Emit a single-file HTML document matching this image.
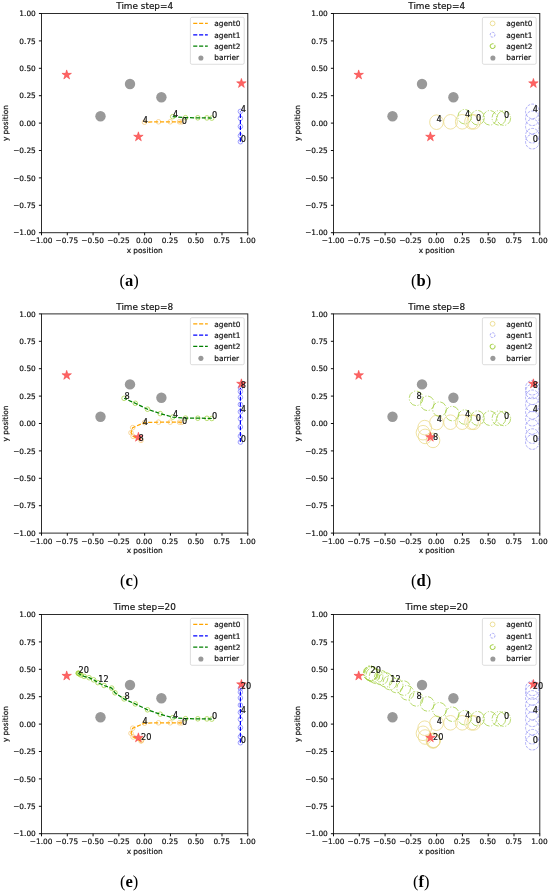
<!DOCTYPE html>
<html><head><meta charset="utf-8"><title>Trajectories</title>
<style>
html,body{margin:0;padding:0;background:#fff;}
svg{display:block;}
text{font-family:"DejaVu Sans","Liberation Sans",sans-serif;fill:#111;stroke:#111;stroke-width:0.18px;}
.tx{font-size:7.4px;text-anchor:middle;}
.ty{font-size:7.4px;text-anchor:end;}
.lg{font-size:7.4px;}
.n{font-size:8.2px;}
.tt{font-size:8.9px;text-anchor:middle;}
.lt{stroke:none;fill:#000;font-family:"Liberation Serif",serif;font-size:16.5px;text-anchor:middle;}
</style></head><body>
<svg width="550" height="893" viewBox="0 0 550 893">
<rect width="550" height="893" fill="#fff"/>

<g transform="translate(41.5,13.5)">
<clipPath id="c0"><rect x="0" y="0" width="206.3" height="219.2"/></clipPath>
<g clip-path="url(#c0)">
<circle cx="88.5" cy="70.5" r="5.2" fill="#999"/>
<circle cx="59" cy="102.8" r="5.2" fill="#999"/>
<circle cx="119.9" cy="83.8" r="5.2" fill="#999"/>
<circle cx="140.3" cy="108.4" r="2.3" fill="none" stroke="#f6c97c" stroke-width="0.75"/>
<circle cx="138" cy="108.3" r="2.3" fill="none" stroke="#f6c97c" stroke-width="0.75"/>
<circle cx="128.7" cy="108.3" r="2.3" fill="none" stroke="#f6c97c" stroke-width="0.75"/>
<circle cx="117" cy="108.3" r="2.3" fill="none" stroke="#f6c97c" stroke-width="0.75"/>
<circle cx="103" cy="108.7" r="2.3" fill="none" stroke="#f6c97c" stroke-width="0.75"/>
<path d="M140.3,108.4 L138,108.3 L128.7,108.3 L117,108.3 L103,108.7" fill="none" stroke="#ffa500" stroke-width="1.25" stroke-dasharray="4.1,1.8"/>
<circle cx="198.9" cy="128.2" r="2.3" fill="none" stroke="#8080ff" stroke-width="0.75"/>
<circle cx="198.9" cy="122.2" r="2.3" fill="none" stroke="#8080ff" stroke-width="0.75"/>
<circle cx="198.9" cy="113" r="2.3" fill="none" stroke="#8080ff" stroke-width="0.75"/>
<circle cx="198.9" cy="104.8" r="2.3" fill="none" stroke="#8080ff" stroke-width="0.75"/>
<circle cx="198.9" cy="97.9" r="2.3" fill="none" stroke="#8080ff" stroke-width="0.75"/>
<path d="M198.9,128.2 L198.9,122.2 L198.9,113 L198.9,104.8 L198.9,97.9" fill="none" stroke="#0000ff" stroke-width="1.25" stroke-dasharray="4.1,1.8"/>
<circle cx="170.3" cy="104.6" r="2.3" fill="none" stroke="#a3d140" stroke-width="0.75"/>
<circle cx="165.4" cy="104.4" r="2.3" fill="none" stroke="#a3d140" stroke-width="0.75"/>
<circle cx="156.3" cy="104.3" r="2.3" fill="none" stroke="#a3d140" stroke-width="0.75"/>
<circle cx="144" cy="104.2" r="2.3" fill="none" stroke="#a3d140" stroke-width="0.75"/>
<circle cx="131.2" cy="103.2" r="2.3" fill="none" stroke="#a3d140" stroke-width="0.75"/>
<path d="M170.3,104.6 L165.4,104.4 L156.3,104.3 L144,104.2 L131.2,103.2" fill="none" stroke="#008000" stroke-width="1.25" stroke-dasharray="4.1,1.8"/>
<path d="M25.2,56.4 L26.32,59.85 L29.96,59.85 L27.02,61.99 L28.14,65.45 L25.2,63.31 L22.26,65.45 L23.38,61.99 L20.44,59.85 L24.08,59.85Z" fill="#ff6464" stroke="#f03c3c" stroke-width="0.5"/>
<path d="M96.9,118.3 L98.02,121.75 L101.66,121.75 L98.72,123.89 L99.84,127.35 L96.9,125.21 L93.96,127.35 L95.08,123.89 L92.14,121.75 L95.78,121.75Z" fill="#ff6464" stroke="#f03c3c" stroke-width="0.5"/>
<path d="M199.9,64.9 L201.02,68.35 L204.66,68.35 L201.72,70.49 L202.84,73.95 L199.9,71.81 L196.96,73.95 L198.08,70.49 L195.14,68.35 L198.78,68.35Z" fill="#ff6464" stroke="#f03c3c" stroke-width="0.5"/>
</g>
<rect x="0" y="0" width="206.3" height="219.2" fill="none" stroke="#222" stroke-width="0.95"/>
<text x="140.3" y="110.1" class="n">0</text>
<text x="101.3" y="109.2" class="n">4</text>
<text x="199.2" y="128.5" class="n">0</text>
<text x="199.2" y="98.2" class="n">4</text>
<text x="170.6" y="104.9" class="n">0</text>
<text x="131.5" y="103.5" class="n">4</text>
<path d="M0,219.2v2.6M0,219.2h-2.6M25.79,219.2v2.6M0,191.8h-2.6M51.58,219.2v2.6M0,164.4h-2.6M77.36,219.2v2.6M0,137h-2.6M103.15,219.2v2.6M0,109.6h-2.6M128.94,219.2v2.6M0,82.2h-2.6M154.73,219.2v2.6M0,54.8h-2.6M180.51,219.2v2.6M0,27.4h-2.6M206.3,219.2v2.6M0,0h-2.6" stroke="#000" stroke-width="0.95" fill="none"/>
<text x="-0.4" y="229.8" class="tx">−1.00</text>
<text x="-5.7" y="221.9" class="ty">−1.00</text>
<text x="25.39" y="229.8" class="tx">−0.75</text>
<text x="-5.7" y="194.5" class="ty">−0.75</text>
<text x="51.18" y="229.8" class="tx">−0.50</text>
<text x="-5.7" y="167.1" class="ty">−0.50</text>
<text x="76.96" y="229.8" class="tx">−0.25</text>
<text x="-5.7" y="139.7" class="ty">−0.25</text>
<text x="102.75" y="229.8" class="tx">0.00</text>
<text x="-5.7" y="112.3" class="ty">0.00</text>
<text x="128.54" y="229.8" class="tx">0.25</text>
<text x="-5.7" y="84.9" class="ty">0.25</text>
<text x="154.33" y="229.8" class="tx">0.50</text>
<text x="-5.7" y="57.5" class="ty">0.50</text>
<text x="180.11" y="229.8" class="tx">0.75</text>
<text x="-5.7" y="30.1" class="ty">0.75</text>
<text x="205.9" y="229.8" class="tx">1.00</text>
<text x="-5.7" y="2.7" class="ty">1.00</text>
<text x="103.15" y="239.6" class="tx">x position</text>
<text transform="translate(-33.3,109.6) rotate(-90)" class="tx">y position</text>
<text x="103.15" y="-4.4" class="tt">Time step=4</text>
<rect x="148.9" y="3.8" width="53.8" height="47" rx="1.5" fill="#fff" fill-opacity="0.8" stroke="#d0d0d0" stroke-width="0.7"/>
<path d="M151.7,9.9h14.6" stroke="#ffa500" stroke-width="1.25" stroke-dasharray="4.1,1.8"/>
<text x="172.8" y="12.65" class="lg">agent0</text>
<path d="M151.7,21.25h14.6" stroke="#0000ff" stroke-width="1.25" stroke-dasharray="4.1,1.8"/>
<text x="172.8" y="24" class="lg">agent1</text>
<path d="M151.7,32.6h14.6" stroke="#008000" stroke-width="1.25" stroke-dasharray="4.1,1.8"/>
<text x="172.8" y="35.35" class="lg">agent2</text>
<circle cx="159.4" cy="44.45" r="2.55" fill="#999"/>
<text x="172.8" y="46.7" class="lg">barrier</text>
</g>
<text x="129.15" y="285.7" class="lt">(<tspan font-weight="bold">a</tspan>)</text>
<g transform="translate(333.5,13.5)">
<clipPath id="c1"><rect x="0" y="0" width="206.3" height="219.2"/></clipPath>
<g clip-path="url(#c1)">
<circle cx="88.5" cy="70.5" r="5.2" fill="#999"/>
<circle cx="59" cy="102.8" r="5.2" fill="#999"/>
<circle cx="119.9" cy="83.8" r="5.2" fill="#999"/>
<ellipse cx="140.3" cy="108.4" rx="6.85" ry="7.3" fill="none" stroke="#ebdb8c" stroke-width="0.8"/>
<ellipse cx="138" cy="108.3" rx="6.85" ry="7.3" fill="none" stroke="#ebdb8c" stroke-width="0.8"/>
<ellipse cx="128.7" cy="108.3" rx="6.85" ry="7.3" fill="none" stroke="#ebdb8c" stroke-width="0.8"/>
<ellipse cx="117" cy="108.3" rx="6.85" ry="7.3" fill="none" stroke="#ebdb8c" stroke-width="0.8"/>
<ellipse cx="103" cy="108.7" rx="6.85" ry="7.3" fill="none" stroke="#ebdb8c" stroke-width="0.8"/>
<ellipse cx="198.9" cy="128.2" rx="6.85" ry="7.3" fill="none" stroke="#9a9af5" stroke-width="0.8" stroke-dasharray="2.8,1.2"/>
<ellipse cx="198.9" cy="122.2" rx="6.85" ry="7.3" fill="none" stroke="#9a9af5" stroke-width="0.8" stroke-dasharray="2.8,1.2"/>
<ellipse cx="198.9" cy="113" rx="6.85" ry="7.3" fill="none" stroke="#9a9af5" stroke-width="0.8" stroke-dasharray="2.8,1.2"/>
<ellipse cx="198.9" cy="104.8" rx="6.85" ry="7.3" fill="none" stroke="#9a9af5" stroke-width="0.8" stroke-dasharray="2.8,1.2"/>
<ellipse cx="198.9" cy="97.9" rx="6.85" ry="7.3" fill="none" stroke="#9a9af5" stroke-width="0.8" stroke-dasharray="2.8,1.2"/>
<ellipse cx="170.3" cy="104.6" rx="6.85" ry="7.3" fill="none" stroke="#a6d048" stroke-width="0.8" stroke-dasharray="6.8,1.7,1.1,1.7"/>
<ellipse cx="165.4" cy="104.4" rx="6.85" ry="7.3" fill="none" stroke="#a6d048" stroke-width="0.8" stroke-dasharray="6.8,1.7,1.1,1.7"/>
<ellipse cx="156.3" cy="104.3" rx="6.85" ry="7.3" fill="none" stroke="#a6d048" stroke-width="0.8" stroke-dasharray="6.8,1.7,1.1,1.7"/>
<ellipse cx="144" cy="104.2" rx="6.85" ry="7.3" fill="none" stroke="#a6d048" stroke-width="0.8" stroke-dasharray="6.8,1.7,1.1,1.7"/>
<ellipse cx="131.2" cy="103.2" rx="6.85" ry="7.3" fill="none" stroke="#a6d048" stroke-width="0.8" stroke-dasharray="6.8,1.7,1.1,1.7"/>
<path d="M25.2,56.4 L26.32,59.85 L29.96,59.85 L27.02,61.99 L28.14,65.45 L25.2,63.31 L22.26,65.45 L23.38,61.99 L20.44,59.85 L24.08,59.85Z" fill="#ff6464" stroke="#f03c3c" stroke-width="0.5"/>
<path d="M96.9,118.3 L98.02,121.75 L101.66,121.75 L98.72,123.89 L99.84,127.35 L96.9,125.21 L93.96,127.35 L95.08,123.89 L92.14,121.75 L95.78,121.75Z" fill="#ff6464" stroke="#f03c3c" stroke-width="0.5"/>
<path d="M199.9,64.9 L201.02,68.35 L204.66,68.35 L201.72,70.49 L202.84,73.95 L199.9,71.81 L196.96,73.95 L198.08,70.49 L195.14,68.35 L198.78,68.35Z" fill="#ff6464" stroke="#f03c3c" stroke-width="0.5"/>
</g>
<rect x="0" y="0" width="206.3" height="219.2" fill="none" stroke="#222" stroke-width="0.95"/>
<text x="142.6" y="107.9" class="n">0</text>
<text x="103.1" y="108.9" class="n">4</text>
<text x="199.2" y="128.5" class="n">0</text>
<text x="199.2" y="98.2" class="n">4</text>
<text x="170.6" y="104.9" class="n">0</text>
<text x="131.5" y="103.5" class="n">4</text>
<path d="M0,219.2v2.6M0,219.2h-2.6M25.79,219.2v2.6M0,191.8h-2.6M51.58,219.2v2.6M0,164.4h-2.6M77.36,219.2v2.6M0,137h-2.6M103.15,219.2v2.6M0,109.6h-2.6M128.94,219.2v2.6M0,82.2h-2.6M154.73,219.2v2.6M0,54.8h-2.6M180.51,219.2v2.6M0,27.4h-2.6M206.3,219.2v2.6M0,0h-2.6" stroke="#000" stroke-width="0.95" fill="none"/>
<text x="-0.4" y="229.8" class="tx">−1.00</text>
<text x="-5.7" y="221.9" class="ty">−1.00</text>
<text x="25.39" y="229.8" class="tx">−0.75</text>
<text x="-5.7" y="194.5" class="ty">−0.75</text>
<text x="51.18" y="229.8" class="tx">−0.50</text>
<text x="-5.7" y="167.1" class="ty">−0.50</text>
<text x="76.96" y="229.8" class="tx">−0.25</text>
<text x="-5.7" y="139.7" class="ty">−0.25</text>
<text x="102.75" y="229.8" class="tx">0.00</text>
<text x="-5.7" y="112.3" class="ty">0.00</text>
<text x="128.54" y="229.8" class="tx">0.25</text>
<text x="-5.7" y="84.9" class="ty">0.25</text>
<text x="154.33" y="229.8" class="tx">0.50</text>
<text x="-5.7" y="57.5" class="ty">0.50</text>
<text x="180.11" y="229.8" class="tx">0.75</text>
<text x="-5.7" y="30.1" class="ty">0.75</text>
<text x="205.9" y="229.8" class="tx">1.00</text>
<text x="-5.7" y="2.7" class="ty">1.00</text>
<text x="103.15" y="239.6" class="tx">x position</text>
<text transform="translate(-33.3,109.6) rotate(-90)" class="tx">y position</text>
<text x="103.15" y="-4.4" class="tt">Time step=4</text>
<rect x="148.9" y="3.8" width="53.8" height="47" rx="1.5" fill="#fff" fill-opacity="0.8" stroke="#d0d0d0" stroke-width="0.7"/>
<circle cx="159.1" cy="9.9" r="2.4" fill="none" stroke="#ebdb8c" stroke-width="0.9"/>
<text x="172.8" y="12.65" class="lg">agent0</text>
<circle cx="159.1" cy="21.25" r="2.4" fill="none" stroke="#9a9af5" stroke-width="0.9" stroke-dasharray="2.2,1.1"/>
<text x="172.8" y="24" class="lg">agent1</text>
<circle cx="159.1" cy="32.6" r="2.4" fill="none" stroke="#a6d048" stroke-width="0.9" stroke-dasharray="12.3,2.8" transform="rotate(-30 159.1 32.6)"/>
<text x="172.8" y="35.35" class="lg">agent2</text>
<circle cx="159.4" cy="44.45" r="2.55" fill="#999"/>
<text x="172.8" y="46.7" class="lg">barrier</text>
</g>
<text x="421.15" y="285.7" class="lt">(<tspan font-weight="bold">b</tspan>)</text>
<g transform="translate(41.5,313.9)">
<clipPath id="c2"><rect x="0" y="0" width="206.3" height="219.2"/></clipPath>
<g clip-path="url(#c2)">
<circle cx="88.5" cy="70.5" r="5.2" fill="#999"/>
<circle cx="59" cy="102.8" r="5.2" fill="#999"/>
<circle cx="119.9" cy="83.8" r="5.2" fill="#999"/>
<circle cx="140.3" cy="108.4" r="2.3" fill="none" stroke="#f6c97c" stroke-width="0.75"/>
<circle cx="138" cy="108.3" r="2.3" fill="none" stroke="#f6c97c" stroke-width="0.75"/>
<circle cx="128.7" cy="108.3" r="2.3" fill="none" stroke="#f6c97c" stroke-width="0.75"/>
<circle cx="117" cy="108.3" r="2.3" fill="none" stroke="#f6c97c" stroke-width="0.75"/>
<circle cx="103" cy="108.7" r="2.3" fill="none" stroke="#f6c97c" stroke-width="0.75"/>
<circle cx="91.2" cy="113.7" r="2.3" fill="none" stroke="#f6c97c" stroke-width="0.75"/>
<circle cx="89.5" cy="118.8" r="2.3" fill="none" stroke="#f6c97c" stroke-width="0.75"/>
<circle cx="91.6" cy="122.5" r="2.3" fill="none" stroke="#f6c97c" stroke-width="0.75"/>
<circle cx="99.5" cy="126.5" r="2.3" fill="none" stroke="#f6c97c" stroke-width="0.75"/>
<path d="M140.3,108.4 L138,108.3 L128.7,108.3 L117,108.3 L103,108.7 L91.2,113.7 L89.5,118.8 L91.6,122.5 L99.5,126.5" fill="none" stroke="#ffa500" stroke-width="1.25" stroke-dasharray="4.1,1.8"/>
<circle cx="198.9" cy="128.2" r="2.3" fill="none" stroke="#8080ff" stroke-width="0.75"/>
<circle cx="198.9" cy="122.2" r="2.3" fill="none" stroke="#8080ff" stroke-width="0.75"/>
<circle cx="198.9" cy="113" r="2.3" fill="none" stroke="#8080ff" stroke-width="0.75"/>
<circle cx="198.9" cy="104.8" r="2.3" fill="none" stroke="#8080ff" stroke-width="0.75"/>
<circle cx="198.9" cy="97.9" r="2.3" fill="none" stroke="#8080ff" stroke-width="0.75"/>
<circle cx="198.9" cy="90.6" r="2.3" fill="none" stroke="#8080ff" stroke-width="0.75"/>
<circle cx="198.9" cy="83.4" r="2.3" fill="none" stroke="#8080ff" stroke-width="0.75"/>
<circle cx="198.9" cy="77.6" r="2.3" fill="none" stroke="#8080ff" stroke-width="0.75"/>
<circle cx="198.9" cy="73.8" r="2.3" fill="none" stroke="#8080ff" stroke-width="0.75"/>
<path d="M198.9,128.2 L198.9,122.2 L198.9,113 L198.9,104.8 L198.9,97.9 L198.9,90.6 L198.9,83.4 L198.9,77.6 L198.9,73.8" fill="none" stroke="#0000ff" stroke-width="1.25" stroke-dasharray="4.1,1.8"/>
<circle cx="170.3" cy="104.6" r="2.3" fill="none" stroke="#a3d140" stroke-width="0.75"/>
<circle cx="165.4" cy="104.4" r="2.3" fill="none" stroke="#a3d140" stroke-width="0.75"/>
<circle cx="156.3" cy="104.3" r="2.3" fill="none" stroke="#a3d140" stroke-width="0.75"/>
<circle cx="144" cy="104.2" r="2.3" fill="none" stroke="#a3d140" stroke-width="0.75"/>
<circle cx="131.2" cy="103.2" r="2.3" fill="none" stroke="#a3d140" stroke-width="0.75"/>
<circle cx="118.7" cy="99.7" r="2.3" fill="none" stroke="#a3d140" stroke-width="0.75"/>
<circle cx="106" cy="95.3" r="2.3" fill="none" stroke="#a3d140" stroke-width="0.75"/>
<circle cx="93.8" cy="89.4" r="2.3" fill="none" stroke="#a3d140" stroke-width="0.75"/>
<circle cx="82.6" cy="84.4" r="2.3" fill="none" stroke="#a3d140" stroke-width="0.75"/>
<path d="M170.3,104.6 L165.4,104.4 L156.3,104.3 L144,104.2 L131.2,103.2 L118.7,99.7 L106,95.3 L93.8,89.4 L82.6,84.4" fill="none" stroke="#008000" stroke-width="1.25" stroke-dasharray="4.1,1.8"/>
<path d="M25.2,56.4 L26.32,59.85 L29.96,59.85 L27.02,61.99 L28.14,65.45 L25.2,63.31 L22.26,65.45 L23.38,61.99 L20.44,59.85 L24.08,59.85Z" fill="#ff6464" stroke="#f03c3c" stroke-width="0.5"/>
<path d="M96.9,118.3 L98.02,121.75 L101.66,121.75 L98.72,123.89 L99.84,127.35 L96.9,125.21 L93.96,127.35 L95.08,123.89 L92.14,121.75 L95.78,121.75Z" fill="#ff6464" stroke="#f03c3c" stroke-width="0.5"/>
<path d="M199.9,64.9 L201.02,68.35 L204.66,68.35 L201.72,70.49 L202.84,73.95 L199.9,71.81 L196.96,73.95 L198.08,70.49 L195.14,68.35 L198.78,68.35Z" fill="#ff6464" stroke="#f03c3c" stroke-width="0.5"/>
</g>
<rect x="0" y="0" width="206.3" height="219.2" fill="none" stroke="#222" stroke-width="0.95"/>
<text x="140.5" y="110.6" class="n">0</text>
<text x="101.3" y="110.9" class="n">4</text>
<text x="97.1" y="127.6" class="n">8</text>
<text x="199.2" y="128.5" class="n">0</text>
<text x="199.2" y="98.2" class="n">4</text>
<text x="199.2" y="74.1" class="n">8</text>
<text x="170.6" y="104.9" class="n">0</text>
<text x="131.5" y="103.5" class="n">4</text>
<text x="82.9" y="84.7" class="n">8</text>
<path d="M0,219.2v2.6M0,219.2h-2.6M25.79,219.2v2.6M0,191.8h-2.6M51.58,219.2v2.6M0,164.4h-2.6M77.36,219.2v2.6M0,137h-2.6M103.15,219.2v2.6M0,109.6h-2.6M128.94,219.2v2.6M0,82.2h-2.6M154.73,219.2v2.6M0,54.8h-2.6M180.51,219.2v2.6M0,27.4h-2.6M206.3,219.2v2.6M0,0h-2.6" stroke="#000" stroke-width="0.95" fill="none"/>
<text x="-0.4" y="229.8" class="tx">−1.00</text>
<text x="-5.7" y="221.9" class="ty">−1.00</text>
<text x="25.39" y="229.8" class="tx">−0.75</text>
<text x="-5.7" y="194.5" class="ty">−0.75</text>
<text x="51.18" y="229.8" class="tx">−0.50</text>
<text x="-5.7" y="167.1" class="ty">−0.50</text>
<text x="76.96" y="229.8" class="tx">−0.25</text>
<text x="-5.7" y="139.7" class="ty">−0.25</text>
<text x="102.75" y="229.8" class="tx">0.00</text>
<text x="-5.7" y="112.3" class="ty">0.00</text>
<text x="128.54" y="229.8" class="tx">0.25</text>
<text x="-5.7" y="84.9" class="ty">0.25</text>
<text x="154.33" y="229.8" class="tx">0.50</text>
<text x="-5.7" y="57.5" class="ty">0.50</text>
<text x="180.11" y="229.8" class="tx">0.75</text>
<text x="-5.7" y="30.1" class="ty">0.75</text>
<text x="205.9" y="229.8" class="tx">1.00</text>
<text x="-5.7" y="2.7" class="ty">1.00</text>
<text x="103.15" y="239.6" class="tx">x position</text>
<text transform="translate(-33.3,109.6) rotate(-90)" class="tx">y position</text>
<text x="103.15" y="-4.4" class="tt">Time step=8</text>
<rect x="148.9" y="3.8" width="53.8" height="47" rx="1.5" fill="#fff" fill-opacity="0.8" stroke="#d0d0d0" stroke-width="0.7"/>
<path d="M151.7,9.9h14.6" stroke="#ffa500" stroke-width="1.25" stroke-dasharray="4.1,1.8"/>
<text x="172.8" y="12.65" class="lg">agent0</text>
<path d="M151.7,21.25h14.6" stroke="#0000ff" stroke-width="1.25" stroke-dasharray="4.1,1.8"/>
<text x="172.8" y="24" class="lg">agent1</text>
<path d="M151.7,32.6h14.6" stroke="#008000" stroke-width="1.25" stroke-dasharray="4.1,1.8"/>
<text x="172.8" y="35.35" class="lg">agent2</text>
<circle cx="159.4" cy="44.45" r="2.55" fill="#999"/>
<text x="172.8" y="46.7" class="lg">barrier</text>
</g>
<text x="129.15" y="586.1" class="lt">(<tspan font-weight="bold">c</tspan>)</text>
<g transform="translate(333.5,313.9)">
<clipPath id="c3"><rect x="0" y="0" width="206.3" height="219.2"/></clipPath>
<g clip-path="url(#c3)">
<circle cx="88.5" cy="70.5" r="5.2" fill="#999"/>
<circle cx="59" cy="102.8" r="5.2" fill="#999"/>
<circle cx="119.9" cy="83.8" r="5.2" fill="#999"/>
<ellipse cx="140.3" cy="108.4" rx="6.85" ry="7.3" fill="none" stroke="#ebdb8c" stroke-width="0.8"/>
<ellipse cx="138" cy="108.3" rx="6.85" ry="7.3" fill="none" stroke="#ebdb8c" stroke-width="0.8"/>
<ellipse cx="128.7" cy="108.3" rx="6.85" ry="7.3" fill="none" stroke="#ebdb8c" stroke-width="0.8"/>
<ellipse cx="117" cy="108.3" rx="6.85" ry="7.3" fill="none" stroke="#ebdb8c" stroke-width="0.8"/>
<ellipse cx="103" cy="108.7" rx="6.85" ry="7.3" fill="none" stroke="#ebdb8c" stroke-width="0.8"/>
<ellipse cx="91.2" cy="113.7" rx="6.85" ry="7.3" fill="none" stroke="#ebdb8c" stroke-width="0.8"/>
<ellipse cx="89.5" cy="118.8" rx="6.85" ry="7.3" fill="none" stroke="#ebdb8c" stroke-width="0.8"/>
<ellipse cx="91.6" cy="122.5" rx="6.85" ry="7.3" fill="none" stroke="#ebdb8c" stroke-width="0.8"/>
<ellipse cx="99.5" cy="126.5" rx="6.85" ry="7.3" fill="none" stroke="#ebdb8c" stroke-width="0.8"/>
<ellipse cx="198.9" cy="128.2" rx="6.85" ry="7.3" fill="none" stroke="#9a9af5" stroke-width="0.8" stroke-dasharray="2.8,1.2"/>
<ellipse cx="198.9" cy="122.2" rx="6.85" ry="7.3" fill="none" stroke="#9a9af5" stroke-width="0.8" stroke-dasharray="2.8,1.2"/>
<ellipse cx="198.9" cy="113" rx="6.85" ry="7.3" fill="none" stroke="#9a9af5" stroke-width="0.8" stroke-dasharray="2.8,1.2"/>
<ellipse cx="198.9" cy="104.8" rx="6.85" ry="7.3" fill="none" stroke="#9a9af5" stroke-width="0.8" stroke-dasharray="2.8,1.2"/>
<ellipse cx="198.9" cy="97.9" rx="6.85" ry="7.3" fill="none" stroke="#9a9af5" stroke-width="0.8" stroke-dasharray="2.8,1.2"/>
<ellipse cx="198.9" cy="90.6" rx="6.85" ry="7.3" fill="none" stroke="#9a9af5" stroke-width="0.8" stroke-dasharray="2.8,1.2"/>
<ellipse cx="198.9" cy="83.4" rx="6.85" ry="7.3" fill="none" stroke="#9a9af5" stroke-width="0.8" stroke-dasharray="2.8,1.2"/>
<ellipse cx="198.9" cy="77.6" rx="6.85" ry="7.3" fill="none" stroke="#9a9af5" stroke-width="0.8" stroke-dasharray="2.8,1.2"/>
<ellipse cx="198.9" cy="73.8" rx="6.85" ry="7.3" fill="none" stroke="#9a9af5" stroke-width="0.8" stroke-dasharray="2.8,1.2"/>
<ellipse cx="170.3" cy="104.6" rx="6.85" ry="7.3" fill="none" stroke="#a6d048" stroke-width="0.8" stroke-dasharray="6.8,1.7,1.1,1.7"/>
<ellipse cx="165.4" cy="104.4" rx="6.85" ry="7.3" fill="none" stroke="#a6d048" stroke-width="0.8" stroke-dasharray="6.8,1.7,1.1,1.7"/>
<ellipse cx="156.3" cy="104.3" rx="6.85" ry="7.3" fill="none" stroke="#a6d048" stroke-width="0.8" stroke-dasharray="6.8,1.7,1.1,1.7"/>
<ellipse cx="144" cy="104.2" rx="6.85" ry="7.3" fill="none" stroke="#a6d048" stroke-width="0.8" stroke-dasharray="6.8,1.7,1.1,1.7"/>
<ellipse cx="131.2" cy="103.2" rx="6.85" ry="7.3" fill="none" stroke="#a6d048" stroke-width="0.8" stroke-dasharray="6.8,1.7,1.1,1.7"/>
<ellipse cx="118.7" cy="99.7" rx="6.85" ry="7.3" fill="none" stroke="#a6d048" stroke-width="0.8" stroke-dasharray="6.8,1.7,1.1,1.7"/>
<ellipse cx="106" cy="95.3" rx="6.85" ry="7.3" fill="none" stroke="#a6d048" stroke-width="0.8" stroke-dasharray="6.8,1.7,1.1,1.7"/>
<ellipse cx="93.8" cy="89.4" rx="6.85" ry="7.3" fill="none" stroke="#a6d048" stroke-width="0.8" stroke-dasharray="6.8,1.7,1.1,1.7"/>
<ellipse cx="82.6" cy="84.4" rx="6.85" ry="7.3" fill="none" stroke="#a6d048" stroke-width="0.8" stroke-dasharray="6.8,1.7,1.1,1.7"/>
<path d="M25.2,56.4 L26.32,59.85 L29.96,59.85 L27.02,61.99 L28.14,65.45 L25.2,63.31 L22.26,65.45 L23.38,61.99 L20.44,59.85 L24.08,59.85Z" fill="#ff6464" stroke="#f03c3c" stroke-width="0.5"/>
<path d="M96.9,118.3 L98.02,121.75 L101.66,121.75 L98.72,123.89 L99.84,127.35 L96.9,125.21 L93.96,127.35 L95.08,123.89 L92.14,121.75 L95.78,121.75Z" fill="#ff6464" stroke="#f03c3c" stroke-width="0.5"/>
<path d="M199.9,64.9 L201.02,68.35 L204.66,68.35 L201.72,70.49 L202.84,73.95 L199.9,71.81 L196.96,73.95 L198.08,70.49 L195.14,68.35 L198.78,68.35Z" fill="#ff6464" stroke="#f03c3c" stroke-width="0.5"/>
</g>
<rect x="0" y="0" width="206.3" height="219.2" fill="none" stroke="#222" stroke-width="0.95"/>
<text x="142.2" y="107.5" class="n">0</text>
<text x="103.3" y="108.6" class="n">4</text>
<text x="99.6" y="125.7" class="n">8</text>
<text x="199.2" y="128.5" class="n">0</text>
<text x="199.2" y="98.2" class="n">4</text>
<text x="199.2" y="74.1" class="n">8</text>
<text x="170.6" y="104.9" class="n">0</text>
<text x="131.5" y="103.5" class="n">4</text>
<text x="82.9" y="84.7" class="n">8</text>
<path d="M0,219.2v2.6M0,219.2h-2.6M25.79,219.2v2.6M0,191.8h-2.6M51.58,219.2v2.6M0,164.4h-2.6M77.36,219.2v2.6M0,137h-2.6M103.15,219.2v2.6M0,109.6h-2.6M128.94,219.2v2.6M0,82.2h-2.6M154.73,219.2v2.6M0,54.8h-2.6M180.51,219.2v2.6M0,27.4h-2.6M206.3,219.2v2.6M0,0h-2.6" stroke="#000" stroke-width="0.95" fill="none"/>
<text x="-0.4" y="229.8" class="tx">−1.00</text>
<text x="-5.7" y="221.9" class="ty">−1.00</text>
<text x="25.39" y="229.8" class="tx">−0.75</text>
<text x="-5.7" y="194.5" class="ty">−0.75</text>
<text x="51.18" y="229.8" class="tx">−0.50</text>
<text x="-5.7" y="167.1" class="ty">−0.50</text>
<text x="76.96" y="229.8" class="tx">−0.25</text>
<text x="-5.7" y="139.7" class="ty">−0.25</text>
<text x="102.75" y="229.8" class="tx">0.00</text>
<text x="-5.7" y="112.3" class="ty">0.00</text>
<text x="128.54" y="229.8" class="tx">0.25</text>
<text x="-5.7" y="84.9" class="ty">0.25</text>
<text x="154.33" y="229.8" class="tx">0.50</text>
<text x="-5.7" y="57.5" class="ty">0.50</text>
<text x="180.11" y="229.8" class="tx">0.75</text>
<text x="-5.7" y="30.1" class="ty">0.75</text>
<text x="205.9" y="229.8" class="tx">1.00</text>
<text x="-5.7" y="2.7" class="ty">1.00</text>
<text x="103.15" y="239.6" class="tx">x position</text>
<text transform="translate(-33.3,109.6) rotate(-90)" class="tx">y position</text>
<text x="103.15" y="-4.4" class="tt">Time step=8</text>
<rect x="148.9" y="3.8" width="53.8" height="47" rx="1.5" fill="#fff" fill-opacity="0.8" stroke="#d0d0d0" stroke-width="0.7"/>
<circle cx="159.1" cy="9.9" r="2.4" fill="none" stroke="#ebdb8c" stroke-width="0.9"/>
<text x="172.8" y="12.65" class="lg">agent0</text>
<circle cx="159.1" cy="21.25" r="2.4" fill="none" stroke="#9a9af5" stroke-width="0.9" stroke-dasharray="2.2,1.1"/>
<text x="172.8" y="24" class="lg">agent1</text>
<circle cx="159.1" cy="32.6" r="2.4" fill="none" stroke="#a6d048" stroke-width="0.9" stroke-dasharray="12.3,2.8" transform="rotate(-30 159.1 32.6)"/>
<text x="172.8" y="35.35" class="lg">agent2</text>
<circle cx="159.4" cy="44.45" r="2.55" fill="#999"/>
<text x="172.8" y="46.7" class="lg">barrier</text>
</g>
<text x="421.15" y="586.1" class="lt">(<tspan font-weight="bold">d</tspan>)</text>
<g transform="translate(41.5,614.5)">
<clipPath id="c4"><rect x="0" y="0" width="206.3" height="219.2"/></clipPath>
<g clip-path="url(#c4)">
<circle cx="88.5" cy="70.5" r="5.2" fill="#999"/>
<circle cx="59" cy="102.8" r="5.2" fill="#999"/>
<circle cx="119.9" cy="83.8" r="5.2" fill="#999"/>
<circle cx="140.3" cy="108.4" r="2.3" fill="none" stroke="#f6c97c" stroke-width="0.75"/>
<circle cx="138" cy="108.3" r="2.3" fill="none" stroke="#f6c97c" stroke-width="0.75"/>
<circle cx="128.7" cy="108.3" r="2.3" fill="none" stroke="#f6c97c" stroke-width="0.75"/>
<circle cx="117" cy="108.3" r="2.3" fill="none" stroke="#f6c97c" stroke-width="0.75"/>
<circle cx="103" cy="108.7" r="2.3" fill="none" stroke="#f6c97c" stroke-width="0.75"/>
<circle cx="91.2" cy="113.7" r="2.3" fill="none" stroke="#f6c97c" stroke-width="0.75"/>
<circle cx="89.5" cy="118.8" r="2.3" fill="none" stroke="#f6c97c" stroke-width="0.75"/>
<circle cx="91.6" cy="122.5" r="2.3" fill="none" stroke="#f6c97c" stroke-width="0.75"/>
<circle cx="99.5" cy="126.5" r="2.3" fill="none" stroke="#f6c97c" stroke-width="0.75"/>
<circle cx="99.9" cy="126" r="2.3" fill="none" stroke="#f6c97c" stroke-width="0.75"/>
<circle cx="100" cy="125.8" r="2.3" fill="none" stroke="#f6c97c" stroke-width="0.75"/>
<path d="M140.3,108.4 L138,108.3 L128.7,108.3 L117,108.3 L103,108.7 L91.2,113.7 L89.5,118.8 L91.6,122.5 L99.5,126.5 L99.9,126 L100,125.8 L100,125.8 L100,125.8 L100,125.8 L100,125.8 L100,125.8 L100,125.8 L100,125.8 L100,125.8 L100,125.8 L100,125.8" fill="none" stroke="#ffa500" stroke-width="1.25" stroke-dasharray="4.1,1.8"/>
<circle cx="198.9" cy="128.2" r="2.3" fill="none" stroke="#8080ff" stroke-width="0.75"/>
<circle cx="198.9" cy="122.2" r="2.3" fill="none" stroke="#8080ff" stroke-width="0.75"/>
<circle cx="198.9" cy="113" r="2.3" fill="none" stroke="#8080ff" stroke-width="0.75"/>
<circle cx="198.9" cy="104.8" r="2.3" fill="none" stroke="#8080ff" stroke-width="0.75"/>
<circle cx="198.9" cy="97.9" r="2.3" fill="none" stroke="#8080ff" stroke-width="0.75"/>
<circle cx="198.9" cy="90.6" r="2.3" fill="none" stroke="#8080ff" stroke-width="0.75"/>
<circle cx="198.9" cy="83.4" r="2.3" fill="none" stroke="#8080ff" stroke-width="0.75"/>
<circle cx="198.9" cy="77.6" r="2.3" fill="none" stroke="#8080ff" stroke-width="0.75"/>
<circle cx="198.9" cy="73.8" r="2.3" fill="none" stroke="#8080ff" stroke-width="0.75"/>
<path d="M198.9,128.2 L198.9,122.2 L198.9,113 L198.9,104.8 L198.9,97.9 L198.9,90.6 L198.9,83.4 L198.9,77.6 L198.9,73.8 L198.9,73.8 L198.9,73.8 L198.9,73.8 L198.9,73.8 L198.9,73.8 L198.9,73.8 L198.9,73.8 L198.9,73.8 L198.9,73.8 L198.9,73.8 L198.9,73.8 L198.9,73.8" fill="none" stroke="#0000ff" stroke-width="1.25" stroke-dasharray="4.1,1.8"/>
<circle cx="170.3" cy="104.6" r="2.3" fill="none" stroke="#a3d140" stroke-width="0.75"/>
<circle cx="165.4" cy="104.4" r="2.3" fill="none" stroke="#a3d140" stroke-width="0.75"/>
<circle cx="156.3" cy="104.3" r="2.3" fill="none" stroke="#a3d140" stroke-width="0.75"/>
<circle cx="144" cy="104.2" r="2.3" fill="none" stroke="#a3d140" stroke-width="0.75"/>
<circle cx="131.2" cy="103.2" r="2.3" fill="none" stroke="#a3d140" stroke-width="0.75"/>
<circle cx="118.7" cy="99.7" r="2.3" fill="none" stroke="#a3d140" stroke-width="0.75"/>
<circle cx="106" cy="95.3" r="2.3" fill="none" stroke="#a3d140" stroke-width="0.75"/>
<circle cx="93.8" cy="89.4" r="2.3" fill="none" stroke="#a3d140" stroke-width="0.75"/>
<circle cx="82.6" cy="84.4" r="2.3" fill="none" stroke="#a3d140" stroke-width="0.75"/>
<circle cx="73.5" cy="78.3" r="2.3" fill="none" stroke="#a3d140" stroke-width="0.75"/>
<circle cx="70.2" cy="73.6" r="2.3" fill="none" stroke="#a3d140" stroke-width="0.75"/>
<circle cx="62.6" cy="71" r="2.3" fill="none" stroke="#a3d140" stroke-width="0.75"/>
<circle cx="56.4" cy="68.1" r="2.3" fill="none" stroke="#a3d140" stroke-width="0.75"/>
<circle cx="52.1" cy="65.3" r="2.3" fill="none" stroke="#a3d140" stroke-width="0.75"/>
<circle cx="47.6" cy="63.2" r="2.3" fill="none" stroke="#a3d140" stroke-width="0.75"/>
<circle cx="42.6" cy="61.9" r="2.3" fill="none" stroke="#a3d140" stroke-width="0.75"/>
<circle cx="39.4" cy="60.5" r="2.3" fill="none" stroke="#a3d140" stroke-width="0.75"/>
<circle cx="38" cy="59.5" r="2.3" fill="none" stroke="#a3d140" stroke-width="0.75"/>
<circle cx="37.3" cy="59" r="2.3" fill="none" stroke="#a3d140" stroke-width="0.75"/>
<circle cx="36.9" cy="58.8" r="2.3" fill="none" stroke="#a3d140" stroke-width="0.75"/>
<circle cx="36.7" cy="58.7" r="2.3" fill="none" stroke="#a3d140" stroke-width="0.75"/>
<path d="M170.3,104.6 L165.4,104.4 L156.3,104.3 L144,104.2 L131.2,103.2 L118.7,99.7 L106,95.3 L93.8,89.4 L82.6,84.4 L73.5,78.3 L70.2,73.6 L62.6,71 L56.4,68.1 L52.1,65.3 L47.6,63.2 L42.6,61.9 L39.4,60.5 L38,59.5 L37.3,59 L36.9,58.8 L36.7,58.7" fill="none" stroke="#008000" stroke-width="1.25" stroke-dasharray="4.1,1.8"/>
<path d="M25.2,56.4 L26.32,59.85 L29.96,59.85 L27.02,61.99 L28.14,65.45 L25.2,63.31 L22.26,65.45 L23.38,61.99 L20.44,59.85 L24.08,59.85Z" fill="#ff6464" stroke="#f03c3c" stroke-width="0.5"/>
<path d="M96.9,118.3 L98.02,121.75 L101.66,121.75 L98.72,123.89 L99.84,127.35 L96.9,125.21 L93.96,127.35 L95.08,123.89 L92.14,121.75 L95.78,121.75Z" fill="#ff6464" stroke="#f03c3c" stroke-width="0.5"/>
<path d="M199.9,64.9 L201.02,68.35 L204.66,68.35 L201.72,70.49 L202.84,73.95 L199.9,71.81 L196.96,73.95 L198.08,70.49 L195.14,68.35 L198.78,68.35Z" fill="#ff6464" stroke="#f03c3c" stroke-width="0.5"/>
</g>
<rect x="0" y="0" width="206.3" height="219.2" fill="none" stroke="#222" stroke-width="0.95"/>
<text x="140.4" y="110.4" class="n">0</text>
<text x="101" y="109.5" class="n">4</text>
<text x="99.6" y="125.8" class="n">20</text>
<text x="199.2" y="128.5" class="n">0</text>
<text x="199.2" y="98.2" class="n">4</text>
<text x="199.2" y="74.1" class="n">20</text>
<text x="170.6" y="104.9" class="n">0</text>
<text x="131.5" y="103.5" class="n">4</text>
<text x="82.9" y="84.7" class="n">8</text>
<text x="56.7" y="67.4" class="n">12</text>
<text x="37" y="58.5" class="n">20</text>
<path d="M0,219.2v2.6M0,219.2h-2.6M25.79,219.2v2.6M0,191.8h-2.6M51.58,219.2v2.6M0,164.4h-2.6M77.36,219.2v2.6M0,137h-2.6M103.15,219.2v2.6M0,109.6h-2.6M128.94,219.2v2.6M0,82.2h-2.6M154.73,219.2v2.6M0,54.8h-2.6M180.51,219.2v2.6M0,27.4h-2.6M206.3,219.2v2.6M0,0h-2.6" stroke="#000" stroke-width="0.95" fill="none"/>
<text x="-0.4" y="229.8" class="tx">−1.00</text>
<text x="-5.7" y="221.9" class="ty">−1.00</text>
<text x="25.39" y="229.8" class="tx">−0.75</text>
<text x="-5.7" y="194.5" class="ty">−0.75</text>
<text x="51.18" y="229.8" class="tx">−0.50</text>
<text x="-5.7" y="167.1" class="ty">−0.50</text>
<text x="76.96" y="229.8" class="tx">−0.25</text>
<text x="-5.7" y="139.7" class="ty">−0.25</text>
<text x="102.75" y="229.8" class="tx">0.00</text>
<text x="-5.7" y="112.3" class="ty">0.00</text>
<text x="128.54" y="229.8" class="tx">0.25</text>
<text x="-5.7" y="84.9" class="ty">0.25</text>
<text x="154.33" y="229.8" class="tx">0.50</text>
<text x="-5.7" y="57.5" class="ty">0.50</text>
<text x="180.11" y="229.8" class="tx">0.75</text>
<text x="-5.7" y="30.1" class="ty">0.75</text>
<text x="205.9" y="229.8" class="tx">1.00</text>
<text x="-5.7" y="2.7" class="ty">1.00</text>
<text x="103.15" y="239.6" class="tx">x position</text>
<text transform="translate(-33.3,109.6) rotate(-90)" class="tx">y position</text>
<text x="103.15" y="-4.4" class="tt">Time step=20</text>
<rect x="148.9" y="3.8" width="53.8" height="47" rx="1.5" fill="#fff" fill-opacity="0.8" stroke="#d0d0d0" stroke-width="0.7"/>
<path d="M151.7,9.9h14.6" stroke="#ffa500" stroke-width="1.25" stroke-dasharray="4.1,1.8"/>
<text x="172.8" y="12.65" class="lg">agent0</text>
<path d="M151.7,21.25h14.6" stroke="#0000ff" stroke-width="1.25" stroke-dasharray="4.1,1.8"/>
<text x="172.8" y="24" class="lg">agent1</text>
<path d="M151.7,32.6h14.6" stroke="#008000" stroke-width="1.25" stroke-dasharray="4.1,1.8"/>
<text x="172.8" y="35.35" class="lg">agent2</text>
<circle cx="159.4" cy="44.45" r="2.55" fill="#999"/>
<text x="172.8" y="46.7" class="lg">barrier</text>
</g>
<text x="129.15" y="886.7" class="lt">(<tspan font-weight="bold">e</tspan>)</text>
<g transform="translate(333.5,614.5)">
<clipPath id="c5"><rect x="0" y="0" width="206.3" height="219.2"/></clipPath>
<g clip-path="url(#c5)">
<circle cx="88.5" cy="70.5" r="5.2" fill="#999"/>
<circle cx="59" cy="102.8" r="5.2" fill="#999"/>
<circle cx="119.9" cy="83.8" r="5.2" fill="#999"/>
<ellipse cx="140.3" cy="108.4" rx="6.85" ry="7.3" fill="none" stroke="#ebdb8c" stroke-width="0.8"/>
<ellipse cx="138" cy="108.3" rx="6.85" ry="7.3" fill="none" stroke="#ebdb8c" stroke-width="0.8"/>
<ellipse cx="128.7" cy="108.3" rx="6.85" ry="7.3" fill="none" stroke="#ebdb8c" stroke-width="0.8"/>
<ellipse cx="117" cy="108.3" rx="6.85" ry="7.3" fill="none" stroke="#ebdb8c" stroke-width="0.8"/>
<ellipse cx="103" cy="108.7" rx="6.85" ry="7.3" fill="none" stroke="#ebdb8c" stroke-width="0.8"/>
<ellipse cx="91.2" cy="113.7" rx="6.85" ry="7.3" fill="none" stroke="#ebdb8c" stroke-width="0.8"/>
<ellipse cx="89.5" cy="118.8" rx="6.85" ry="7.3" fill="none" stroke="#ebdb8c" stroke-width="0.8"/>
<ellipse cx="91.6" cy="122.5" rx="6.85" ry="7.3" fill="none" stroke="#ebdb8c" stroke-width="0.8"/>
<ellipse cx="99.5" cy="126.5" rx="6.85" ry="7.3" fill="none" stroke="#ebdb8c" stroke-width="0.8"/>
<ellipse cx="99.9" cy="126" rx="6.85" ry="7.3" fill="none" stroke="#ebdb8c" stroke-width="0.8"/>
<ellipse cx="100" cy="125.8" rx="6.85" ry="7.3" fill="none" stroke="#ebdb8c" stroke-width="0.8"/>
<ellipse cx="198.9" cy="128.2" rx="6.85" ry="7.3" fill="none" stroke="#9a9af5" stroke-width="0.8" stroke-dasharray="2.8,1.2"/>
<ellipse cx="198.9" cy="122.2" rx="6.85" ry="7.3" fill="none" stroke="#9a9af5" stroke-width="0.8" stroke-dasharray="2.8,1.2"/>
<ellipse cx="198.9" cy="113" rx="6.85" ry="7.3" fill="none" stroke="#9a9af5" stroke-width="0.8" stroke-dasharray="2.8,1.2"/>
<ellipse cx="198.9" cy="104.8" rx="6.85" ry="7.3" fill="none" stroke="#9a9af5" stroke-width="0.8" stroke-dasharray="2.8,1.2"/>
<ellipse cx="198.9" cy="97.9" rx="6.85" ry="7.3" fill="none" stroke="#9a9af5" stroke-width="0.8" stroke-dasharray="2.8,1.2"/>
<ellipse cx="198.9" cy="90.6" rx="6.85" ry="7.3" fill="none" stroke="#9a9af5" stroke-width="0.8" stroke-dasharray="2.8,1.2"/>
<ellipse cx="198.9" cy="83.4" rx="6.85" ry="7.3" fill="none" stroke="#9a9af5" stroke-width="0.8" stroke-dasharray="2.8,1.2"/>
<ellipse cx="198.9" cy="77.6" rx="6.85" ry="7.3" fill="none" stroke="#9a9af5" stroke-width="0.8" stroke-dasharray="2.8,1.2"/>
<ellipse cx="198.9" cy="73.8" rx="6.85" ry="7.3" fill="none" stroke="#9a9af5" stroke-width="0.8" stroke-dasharray="2.8,1.2"/>
<ellipse cx="170.3" cy="104.6" rx="6.85" ry="7.3" fill="none" stroke="#a6d048" stroke-width="0.8" stroke-dasharray="6.8,1.7,1.1,1.7"/>
<ellipse cx="165.4" cy="104.4" rx="6.85" ry="7.3" fill="none" stroke="#a6d048" stroke-width="0.8" stroke-dasharray="6.8,1.7,1.1,1.7"/>
<ellipse cx="156.3" cy="104.3" rx="6.85" ry="7.3" fill="none" stroke="#a6d048" stroke-width="0.8" stroke-dasharray="6.8,1.7,1.1,1.7"/>
<ellipse cx="144" cy="104.2" rx="6.85" ry="7.3" fill="none" stroke="#a6d048" stroke-width="0.8" stroke-dasharray="6.8,1.7,1.1,1.7"/>
<ellipse cx="131.2" cy="103.2" rx="6.85" ry="7.3" fill="none" stroke="#a6d048" stroke-width="0.8" stroke-dasharray="6.8,1.7,1.1,1.7"/>
<ellipse cx="118.7" cy="99.7" rx="6.85" ry="7.3" fill="none" stroke="#a6d048" stroke-width="0.8" stroke-dasharray="6.8,1.7,1.1,1.7"/>
<ellipse cx="106" cy="95.3" rx="6.85" ry="7.3" fill="none" stroke="#a6d048" stroke-width="0.8" stroke-dasharray="6.8,1.7,1.1,1.7"/>
<ellipse cx="93.8" cy="89.4" rx="6.85" ry="7.3" fill="none" stroke="#a6d048" stroke-width="0.8" stroke-dasharray="6.8,1.7,1.1,1.7"/>
<ellipse cx="82.6" cy="84.4" rx="6.85" ry="7.3" fill="none" stroke="#a6d048" stroke-width="0.8" stroke-dasharray="6.8,1.7,1.1,1.7"/>
<ellipse cx="73.5" cy="78.3" rx="6.85" ry="7.3" fill="none" stroke="#a6d048" stroke-width="0.8" stroke-dasharray="6.8,1.7,1.1,1.7"/>
<ellipse cx="70.2" cy="73.6" rx="6.85" ry="7.3" fill="none" stroke="#a6d048" stroke-width="0.8" stroke-dasharray="6.8,1.7,1.1,1.7"/>
<ellipse cx="62.6" cy="71" rx="6.85" ry="7.3" fill="none" stroke="#a6d048" stroke-width="0.8" stroke-dasharray="6.8,1.7,1.1,1.7"/>
<ellipse cx="56.4" cy="68.1" rx="6.85" ry="7.3" fill="none" stroke="#a6d048" stroke-width="0.8" stroke-dasharray="6.8,1.7,1.1,1.7"/>
<ellipse cx="52.1" cy="65.3" rx="6.85" ry="7.3" fill="none" stroke="#a6d048" stroke-width="0.8" stroke-dasharray="6.8,1.7,1.1,1.7"/>
<ellipse cx="47.6" cy="63.2" rx="6.85" ry="7.3" fill="none" stroke="#a6d048" stroke-width="0.8" stroke-dasharray="6.8,1.7,1.1,1.7"/>
<ellipse cx="42.6" cy="61.9" rx="6.85" ry="7.3" fill="none" stroke="#a6d048" stroke-width="0.8" stroke-dasharray="6.8,1.7,1.1,1.7"/>
<ellipse cx="39.4" cy="60.5" rx="6.85" ry="7.3" fill="none" stroke="#a6d048" stroke-width="0.8" stroke-dasharray="6.8,1.7,1.1,1.7"/>
<ellipse cx="38" cy="59.5" rx="6.85" ry="7.3" fill="none" stroke="#a6d048" stroke-width="0.8" stroke-dasharray="6.8,1.7,1.1,1.7"/>
<ellipse cx="37.3" cy="59" rx="6.85" ry="7.3" fill="none" stroke="#a6d048" stroke-width="0.8" stroke-dasharray="6.8,1.7,1.1,1.7"/>
<ellipse cx="36.9" cy="58.8" rx="6.85" ry="7.3" fill="none" stroke="#a6d048" stroke-width="0.8" stroke-dasharray="6.8,1.7,1.1,1.7"/>
<ellipse cx="36.7" cy="58.7" rx="6.85" ry="7.3" fill="none" stroke="#a6d048" stroke-width="0.8" stroke-dasharray="6.8,1.7,1.1,1.7"/>
<path d="M25.2,56.4 L26.32,59.85 L29.96,59.85 L27.02,61.99 L28.14,65.45 L25.2,63.31 L22.26,65.45 L23.38,61.99 L20.44,59.85 L24.08,59.85Z" fill="#ff6464" stroke="#f03c3c" stroke-width="0.5"/>
<path d="M96.9,118.3 L98.02,121.75 L101.66,121.75 L98.72,123.89 L99.84,127.35 L96.9,125.21 L93.96,127.35 L95.08,123.89 L92.14,121.75 L95.78,121.75Z" fill="#ff6464" stroke="#f03c3c" stroke-width="0.5"/>
<path d="M199.9,64.9 L201.02,68.35 L204.66,68.35 L201.72,70.49 L202.84,73.95 L199.9,71.81 L196.96,73.95 L198.08,70.49 L195.14,68.35 L198.78,68.35Z" fill="#ff6464" stroke="#f03c3c" stroke-width="0.5"/>
</g>
<rect x="0" y="0" width="206.3" height="219.2" fill="none" stroke="#222" stroke-width="0.95"/>
<text x="142.2" y="108.1" class="n">0</text>
<text x="103.3" y="109.7" class="n">4</text>
<text x="99.6" y="125.8" class="n">20</text>
<text x="199.2" y="128.5" class="n">0</text>
<text x="199.2" y="98.2" class="n">4</text>
<text x="199.2" y="74.1" class="n">20</text>
<text x="170.6" y="104.9" class="n">0</text>
<text x="131.5" y="103.5" class="n">4</text>
<text x="82.9" y="84.7" class="n">8</text>
<text x="56.7" y="67.7" class="n">12</text>
<text x="37" y="58.5" class="n">20</text>
<path d="M0,219.2v2.6M0,219.2h-2.6M25.79,219.2v2.6M0,191.8h-2.6M51.58,219.2v2.6M0,164.4h-2.6M77.36,219.2v2.6M0,137h-2.6M103.15,219.2v2.6M0,109.6h-2.6M128.94,219.2v2.6M0,82.2h-2.6M154.73,219.2v2.6M0,54.8h-2.6M180.51,219.2v2.6M0,27.4h-2.6M206.3,219.2v2.6M0,0h-2.6" stroke="#000" stroke-width="0.95" fill="none"/>
<text x="-0.4" y="229.8" class="tx">−1.00</text>
<text x="-5.7" y="221.9" class="ty">−1.00</text>
<text x="25.39" y="229.8" class="tx">−0.75</text>
<text x="-5.7" y="194.5" class="ty">−0.75</text>
<text x="51.18" y="229.8" class="tx">−0.50</text>
<text x="-5.7" y="167.1" class="ty">−0.50</text>
<text x="76.96" y="229.8" class="tx">−0.25</text>
<text x="-5.7" y="139.7" class="ty">−0.25</text>
<text x="102.75" y="229.8" class="tx">0.00</text>
<text x="-5.7" y="112.3" class="ty">0.00</text>
<text x="128.54" y="229.8" class="tx">0.25</text>
<text x="-5.7" y="84.9" class="ty">0.25</text>
<text x="154.33" y="229.8" class="tx">0.50</text>
<text x="-5.7" y="57.5" class="ty">0.50</text>
<text x="180.11" y="229.8" class="tx">0.75</text>
<text x="-5.7" y="30.1" class="ty">0.75</text>
<text x="205.9" y="229.8" class="tx">1.00</text>
<text x="-5.7" y="2.7" class="ty">1.00</text>
<text x="103.15" y="239.6" class="tx">x position</text>
<text transform="translate(-33.3,109.6) rotate(-90)" class="tx">y position</text>
<text x="103.15" y="-4.4" class="tt">Time step=20</text>
<rect x="148.9" y="3.8" width="53.8" height="47" rx="1.5" fill="#fff" fill-opacity="0.8" stroke="#d0d0d0" stroke-width="0.7"/>
<circle cx="159.1" cy="9.9" r="2.4" fill="none" stroke="#ebdb8c" stroke-width="0.9"/>
<text x="172.8" y="12.65" class="lg">agent0</text>
<circle cx="159.1" cy="21.25" r="2.4" fill="none" stroke="#9a9af5" stroke-width="0.9" stroke-dasharray="2.2,1.1"/>
<text x="172.8" y="24" class="lg">agent1</text>
<circle cx="159.1" cy="32.6" r="2.4" fill="none" stroke="#a6d048" stroke-width="0.9" stroke-dasharray="12.3,2.8" transform="rotate(-30 159.1 32.6)"/>
<text x="172.8" y="35.35" class="lg">agent2</text>
<circle cx="159.4" cy="44.45" r="2.55" fill="#999"/>
<text x="172.8" y="46.7" class="lg">barrier</text>
</g>
<text x="421.15" y="886.7" class="lt">(<tspan font-weight="bold">f</tspan>)</text>
</svg>
</body></html>
